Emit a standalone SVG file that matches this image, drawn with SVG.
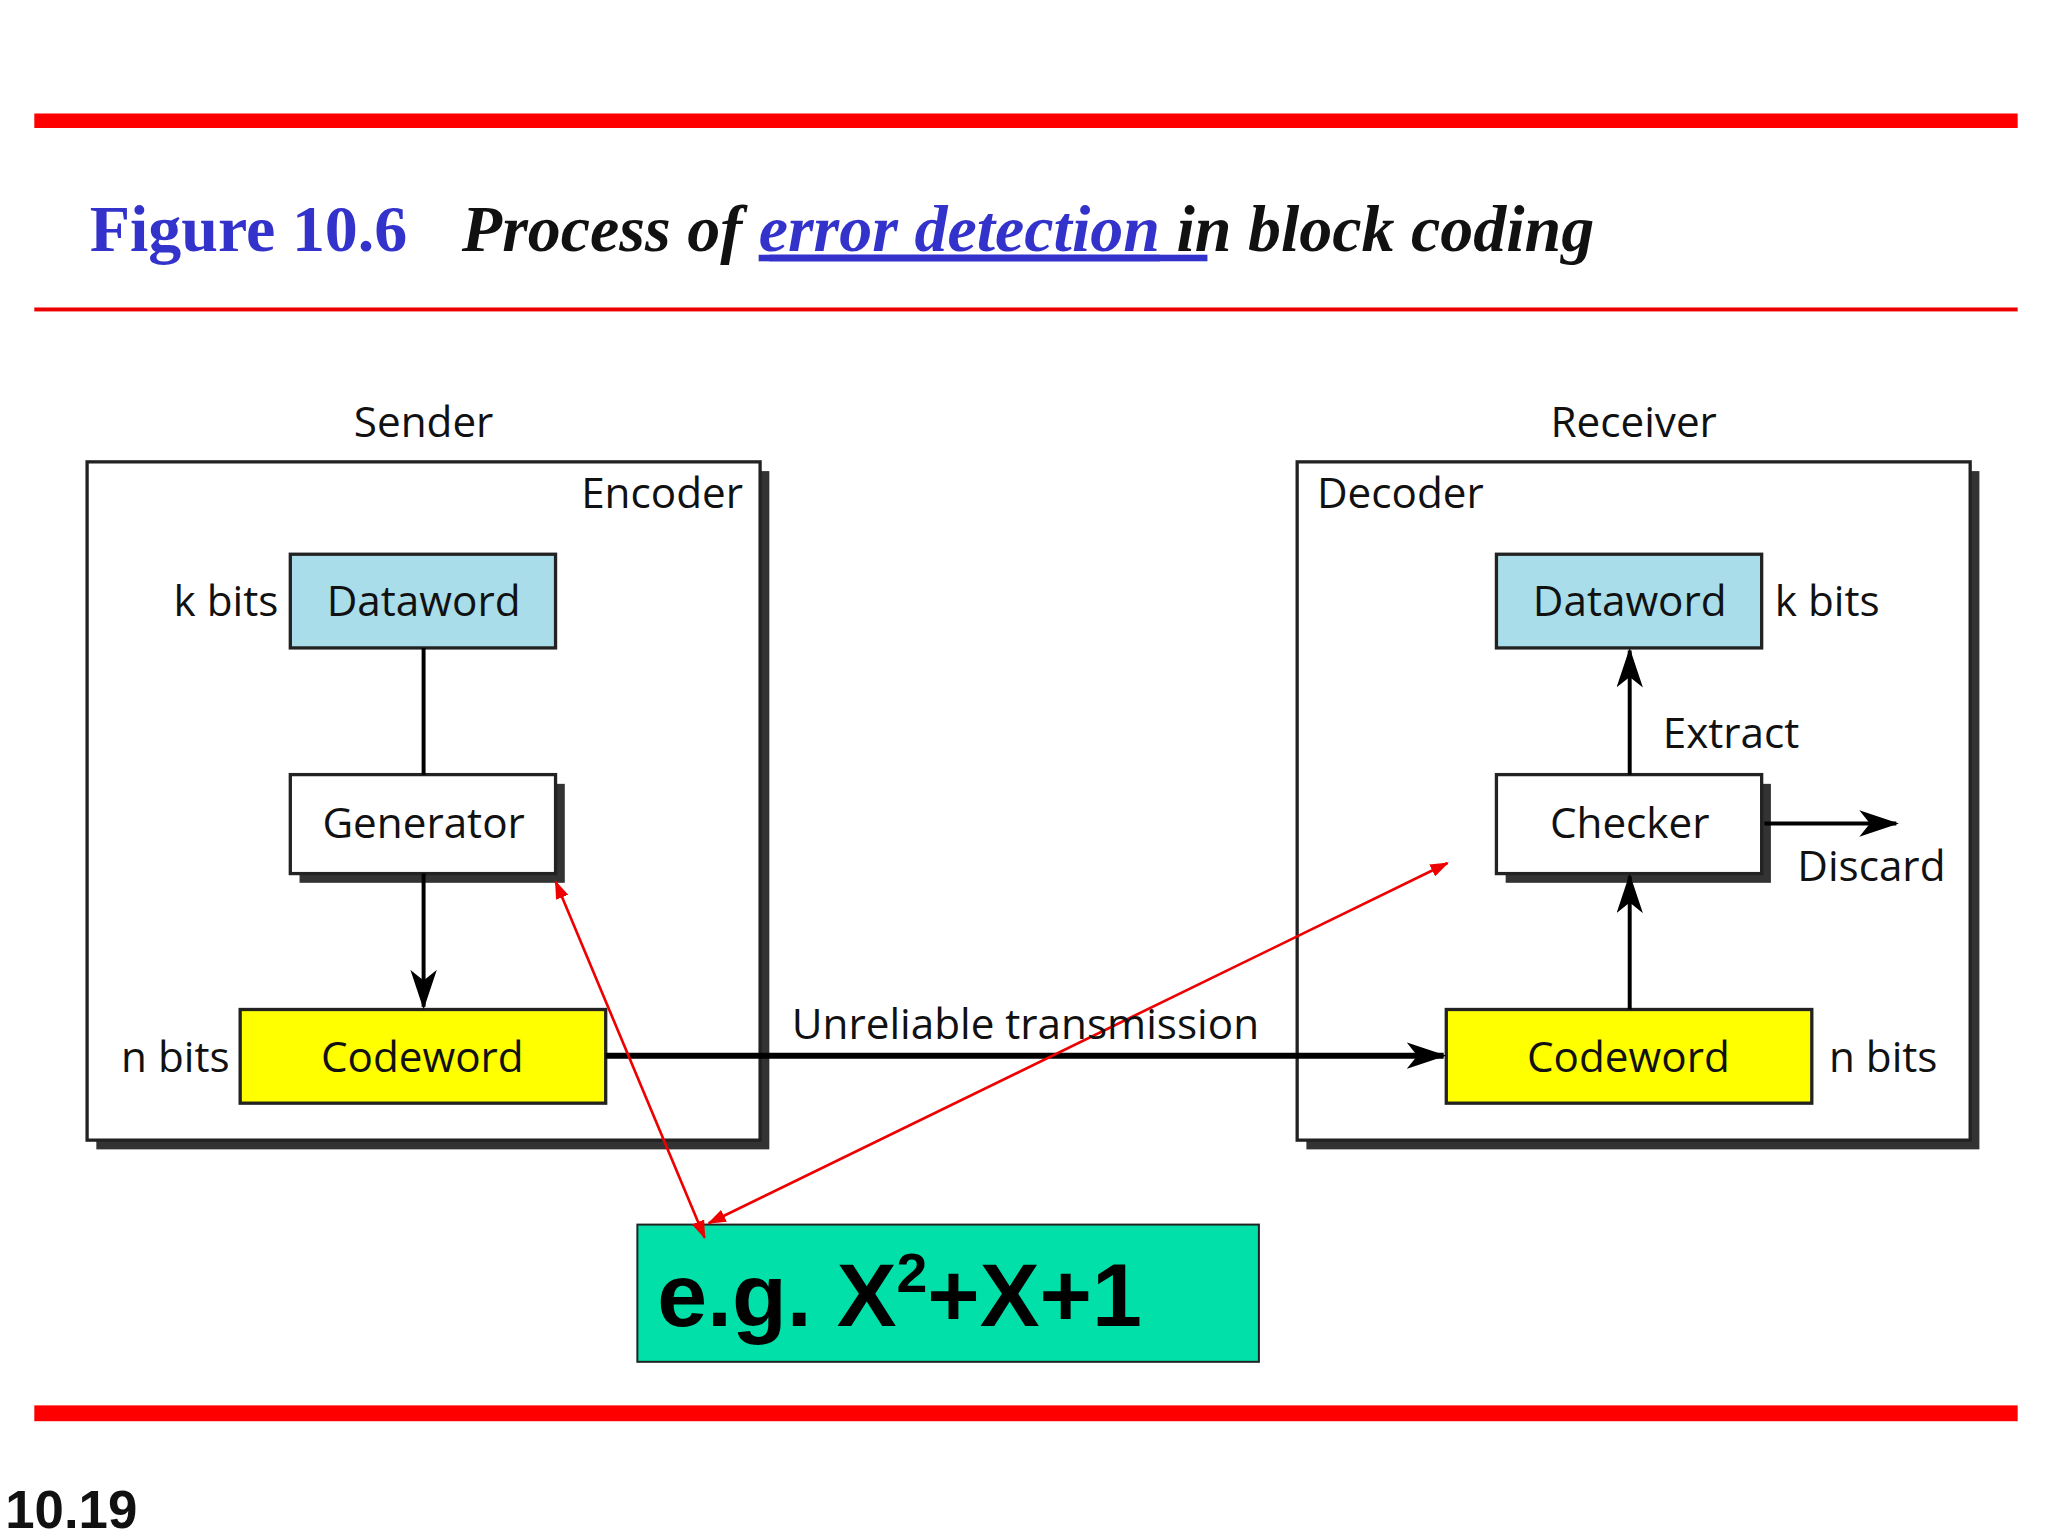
<svg xmlns="http://www.w3.org/2000/svg" width="2048" height="1536" viewBox="0 0 2048 1536">
<defs>
<style>
.t{font-family:"Open Sans","DejaVu Sans",sans-serif;font-size:32px;fill:#111}
.box{stroke:#222;stroke-width:2.5}
.sh{fill:#333}
</style>
<marker id="ah" viewBox="0 0 30 20" refX="28" refY="10" markerWidth="30" markerHeight="20" markerUnits="userSpaceOnUse" orient="auto">
<path d="M0,0 L30,10 L0,20 L8,10 Z" fill="#000"/>
</marker>
<marker id="ra" viewBox="0 0 14 10" refX="13" refY="5" markerWidth="14" markerHeight="10" markerUnits="userSpaceOnUse" orient="auto-start-reverse">
<path d="M0,0 L14,5 L0,10 Z" fill="#e00"/>
</marker>
</defs>
<rect width="2048" height="1536" fill="#fff"/>
<g transform="scale(1.3196)">
<rect x="26" y="86" width="1503" height="11" fill="#f00"/>
<rect x="26" y="233" width="1503" height="3" fill="#e00"/>
<rect x="26" y="1065" width="1503" height="12" fill="#f00"/>
<text x="68" y="190" font-family="Liberation Serif,serif" font-weight="bold" font-size="50" fill="#3333cc">Figure 10.6</text>
<text x="350" y="190" font-family="Liberation Serif,serif" font-weight="bold" font-style="italic" font-size="50" fill="#111">Process of <tspan fill="#3333cc" text-decoration="underline">error detection</tspan> in block coding</text>
<rect x="583" y="193" width="332" height="5" fill="#3333cc"/>
<text x="4" y="1158" font-family="Liberation Sans,sans-serif" font-weight="bold" font-size="40" fill="#111">10.19</text>

<g id="sender">
<text class="t" x="321" y="331" text-anchor="middle">Sender</text>
<rect class="sh" x="73" y="357" width="510" height="514"/>
<rect class="box" x="66" y="350" width="510" height="514" fill="#fff"/>
<text class="t" x="563" y="385" text-anchor="end">Encoder</text>
</g>
<g id="enc-dataword">
<rect class="box" x="220" y="420" width="201" height="71" fill="#a8dde9"/>
<text class="t" x="321" y="467" text-anchor="middle">Dataword</text>
<text class="t" x="211" y="467" text-anchor="end">k bits</text>
</g>
<g id="generator">
<rect class="sh" x="227" y="594" width="201" height="75"/>
<rect class="box" x="220" y="587" width="201" height="75" fill="#fff"/>
<text class="t" x="321" y="635" text-anchor="middle">Generator</text>
</g>
<g id="enc-codeword">
<rect class="box" x="182" y="765" width="277" height="71" fill="#ffff00"/>
<text class="t" x="320" y="812" text-anchor="middle">Codeword</text>
<text class="t" x="174" y="812" text-anchor="end">n bits</text>
</g>

<g id="receiver">
<text class="t" x="1238" y="331" text-anchor="middle">Receiver</text>
<rect class="sh" x="990" y="357" width="510" height="514"/>
<rect class="box" x="983" y="350" width="510" height="514" fill="#fff"/>
<text class="t" x="998" y="385">Decoder</text>
</g>
<g id="dec-dataword">
<rect class="box" x="1134" y="420" width="201" height="71" fill="#a8dde9"/>
<text class="t" x="1235" y="467" text-anchor="middle">Dataword</text>
<text class="t" x="1345" y="467">k bits</text>
</g>
<g id="checker">
<rect class="sh" x="1141" y="594" width="201" height="75"/>
<rect class="box" x="1134" y="587" width="201" height="75" fill="#fff"/>
<text class="t" x="1235" y="635" text-anchor="middle">Checker</text>
</g>
<g id="dec-codeword">
<rect class="box" x="1096" y="765" width="277" height="71" fill="#ffff00"/>
<text class="t" x="1234" y="812" text-anchor="middle">Codeword</text>
<text class="t" x="1386" y="812">n bits</text>
</g>
<g id="example">
<rect x="483" y="928" width="471" height="104" fill="#00e0a8" stroke="#222" stroke-width="1.5"/>
<text x="498" y="1005" font-family="Liberation Sans,sans-serif" font-weight="bold" font-size="68" fill="#000">e.g. X<tspan font-size="42" dy="-26">2</tspan><tspan dy="26">+X+1</tspan></text>
</g>

<g id="connectors" fill="none">
<line x1="321" y1="491" x2="321" y2="587" stroke="#000" stroke-width="3"/>
<line x1="321" y1="662" x2="321" y2="763" stroke="#000" stroke-width="3" marker-end="url(#ah)"/>
<line x1="459" y1="800" x2="1094" y2="800" stroke="#000" stroke-width="4.5" marker-end="url(#ah)"/>
<line x1="1235" y1="587" x2="1235" y2="493" stroke="#000" stroke-width="3" marker-end="url(#ah)"/>
<line x1="1235" y1="765" x2="1235" y2="664" stroke="#000" stroke-width="3" marker-end="url(#ah)"/>
<line x1="1337" y1="624" x2="1437" y2="624" stroke="#000" stroke-width="3" marker-end="url(#ah)"/>
<line x1="421" y1="668" x2="534" y2="938" stroke="#e00" stroke-width="2" marker-start="url(#ra)" marker-end="url(#ra)"/>
<line x1="1097" y1="654" x2="537" y2="927" stroke="#e00" stroke-width="2" marker-start="url(#ra)" marker-end="url(#ra)"/>
</g>
<text class="t" x="600" y="787">Unreliable transmission</text>
<text class="t" x="1260" y="567">Extract</text>
<text class="t" x="1362" y="668">Discard</text>
</g>
</svg>
